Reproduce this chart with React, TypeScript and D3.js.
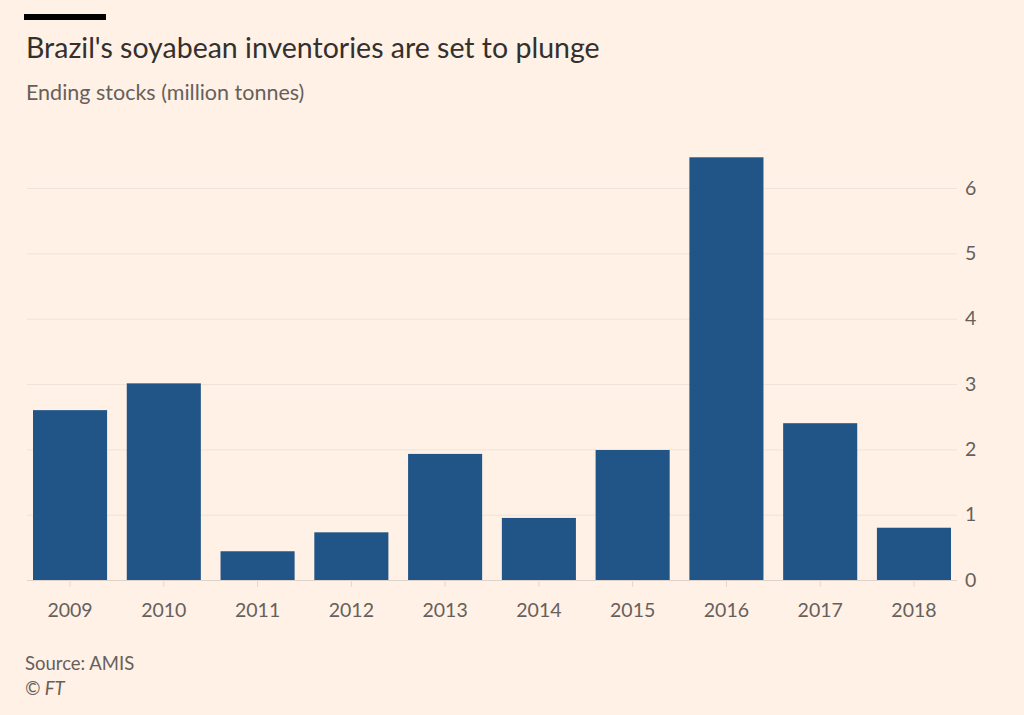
import React from 'react'
import * as d3 from 'd3'

const years = ['2009', '2010', '2011', '2012', '2013', '2014', '2015', '2016', '2017', '2018']
const stocks = [2.6, 3.01, 0.44, 0.73, 1.93, 0.95, 1.99, 6.47, 2.4, 0.8]
const yTicks = [0, 1, 2, 3, 4, 5, 6]

const title = "Brazil's soyabean inventories are set to plunge"
const subtitle = 'Ending stocks (million tonnes)'
const source = 'Source: AMIS'

const width = 1024
const height = 715
const font = 'Lato, "Open Sans", sans-serif'

const App: React.FunctionComponent = () => {
  const xAxisRef = React.useRef<SVGGElement>(null)
  const yAxisRef = React.useRef<SVGGElement>(null)

  const plot = { left: 27, right: 957, top: 140, bottom: 580 }

  const xScale = d3
    .scaleBand()
    .domain(years)
    .range([33, 951])
    .paddingInner(0.21)
    .paddingOuter(0)

  const yScale = d3
    .scaleLinear()
    .domain([0, 6])
    .range([plot.bottom, 188])

  React.useEffect(() => {
    document.body.style.margin = '0'
    document.body.style.background = '#FFF1E5'

    const xAxis = d3.axisBottom(xScale).tickSize(7).tickPadding(16)
    const xg = d3.select(xAxisRef.current).call(xAxis)
    xg.select('.domain').remove()
    xg.selectAll('line').attr('stroke', '#E3D8CF')
    xg.selectAll('text')
      .attr('fill', '#66605C')
      .attr('font-size', 19.5)
      .attr('font-family', font)

    const yAxis = d3
      .axisRight(yScale)
      .tickValues(yTicks)
      .tickFormat(d3.format('d'))
      .tickSize(plot.right - plot.left)
      .tickPadding(8)
    const yg = d3.select(yAxisRef.current).call(yAxis)
    yg.select('.domain').remove()
    yg.selectAll('line').attr('stroke', (d: any) => (d === 0 ? '#DDD2C9' : '#EEE3DA'))
    yg.selectAll('text')
      .attr('fill', '#66605C')
      .attr('font-size', 19.5)
      .attr('font-family', font)
  }, [])

  return (
    <svg width={width} height={height} style={{ display: 'block', background: '#FFF1E5' }}>
      <rect x={0} y={0} width={width} height={height} fill="#FFF1E5" />
      <rect x={24} y={14} width={82} height={6} fill="#000" />
      <text x={26} y={58} fontSize={28.5} fill="#33302E" fontFamily={font}>
        {title}
      </text>
      <text x={26} y={100} fontSize={21.5} fill="#66605C" fontFamily={font}>
        {subtitle}
      </text>

      <g ref={yAxisRef} transform={`translate(${plot.left}, 0)`} />

      {years.map((year, i) => (
        <rect
          key={year}
          x={xScale(year)}
          y={yScale(stocks[i])}
          width={xScale.bandwidth()}
          height={yScale(0) - yScale(stocks[i])}
          fill="#215588"
        />
      ))}

      <g ref={xAxisRef} transform={`translate(0, ${plot.bottom})`} />

      <text x={25} y={670} fontSize={18.5} fill="#66605C" fontFamily={font}>
        {source}
      </text>
      <text x={25} y={695} fontSize={18.5} fill="#66605C" fontFamily={font} fontStyle="italic">
        © FT
      </text>
    </svg>
  )
}

export default App
